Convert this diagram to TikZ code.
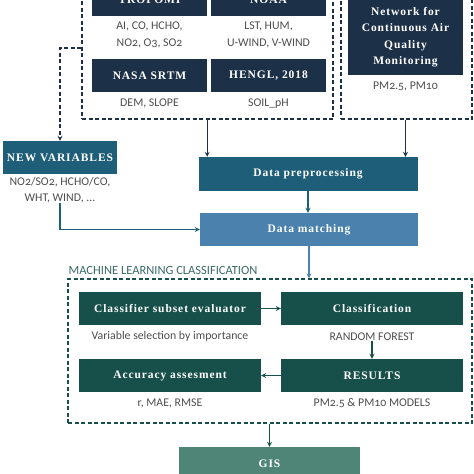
\documentclass[tikz,border=0pt]{standalone}
\usepackage{fontspec}
\usetikzlibrary{arrows, positioning}
\newfontfamily\headfont[LetterSpace=8]{Liberation Serif}
\newfontfamily\bodyfont[Numbers=OldStyle]{Carlito}
\definecolor{navy}{HTML}{1C3048}
\definecolor{prepblue}{HTML}{1F5E78}
\definecolor{matchblue}{HTML}{4A82AD}
\definecolor{mlgreen}{HTML}{17504A}
\definecolor{gisgreen}{HTML}{4E8577}
\definecolor{txtgray}{HTML}{4D4D4D}
\tikzstyle{source} = [rectangle, minimum width=115pt, minimum height=33pt, text centered, fill=navy, text=white, font=\headfont\bfseries\fontsize{11.5}{16.5}\selectfont]
\tikzstyle{process} = [rectangle, minimum width=219pt, minimum height=34pt, text centered, fill=prepblue, text=white, font=\headfont\bfseries\fontsize{11.5}{13}\selectfont]
\tikzstyle{mlstep} = [rectangle, minimum width=182pt, minimum height=33pt, text centered, fill=mlgreen, text=white, font=\headfont\bfseries\fontsize{11.5}{13}\selectfont]
\tikzstyle{values} = [align=center, text=txtgray, inner sep=0pt, font=\bodyfont\fontsize{11.8}{16.5}\selectfont]
\tikzstyle{group} = [rectangle, draw, line width=1.2pt, dash pattern=on 4pt off 2.5pt]
\tikzstyle{arrow} = [line width=1.2pt,->,>=stealth]

\begin{document}
\begin{tikzpicture}[x=1pt, y=-1pt, node distance=28pt]
\clip (0,0) rectangle (474,474);

% data sources
\node (srcframe) [group, draw=navy, minimum width=251pt, minimum height=159pt] at (207.5,39.5) {};
\node (netframe) [group, draw=navy, minimum width=131pt, minimum height=159pt] at (406.5,39.5) {};
\node (tropomi) [source] at (149.5,-0.5) {TROPOMI};
\node (noaa) [source] at (268.5,-0.5) {NOAA};
\node (nasa) [source] at (149.5,75.5) {NASA SRTM};
\node (hengl) [source] at (268.5,75.5) {HENGL, 2018};
\node (net) [source, align=center, minimum height=75pt] at (405.5,37) {Network for\\Continuous Air\\Quality\\Monitoring};
\node (tropoval) [values, node distance=35.5pt, below of=tropomi] {AI, CO, HCHO,\\NO2, O3, SO2};
\node (noaaval) [values, node distance=35.5pt, below of=noaa] {LST, HUM,\\U-WIND, V-WIND};
\node (nasaval) [values, below of=nasa] {DEM, SLOPE};
\node (henglval) [values, below of=hengl] {SOIL\_pH};
\node (netval) [values, node distance=49pt, below of=net] {PM2.5, PM10};

% preprocessing
\node (newvar) [process, minimum width=114pt, minimum height=33pt] at (60,157.5) {NEW VARIABLES};
\node (newval) [values, node distance=32.5pt, below of=newvar] {NO2/SO2, HCHO/CO,\\WHT, WIND, ...};
\node (prep) [process] at (308,174) {Data preprocessing};
\node (match) [process, fill=matchblue, minimum width=218pt, minimum height=33pt] at (309,229.5) {Data matching};

% machine learning
\node (ml) [group, draw=mlgreen, minimum width=404pt, minimum height=144pt] at (270,351) {};
\node (mllabel) [anchor=base west, inner sep=0pt, text=mlgreen!85!white, font=\bodyfont\fontsize{12.5}{14}\selectfont] at ([xshift=1pt, yshift=4pt]ml.north west) {MACHINE LEARNING CLASSIFICATION};
\node (cse) [mlstep] at (170,308.5) {Classifier subset evaluator};
\node (cls) [mlstep] at (372,308.5) {Classification};
\node (acc) [mlstep] at (170,375.5) {Accuracy assesment};
\node (res) [mlstep] at (372,375.5) {RESULTS};
\node (cseval) [values, below of=cse] {Variable selection by importance};
\node (clsval) [values, below of=cls] {RANDOM FOREST};
\node (accval) [values, below of=acc] {r, MAE, RMSE};
\node (resval) [values, below of=res] {PM2.5 \& PM10 MODELS};
\node (gis) [mlstep, fill=gisgreen, minimum width=181pt] at (269.5,463.5) {GIS};

\draw [arrow, navy, dash pattern=on 4pt off 2.5pt] (srcframe.west |- tropoval.south) -| (newvar.north);
\draw [arrow, navy] (tropomi.east |- srcframe.south) -- (tropomi.east |- prep.north);
\draw [arrow, navy] (net.south |- netframe.south) -- (net.south |- prep.north);
\draw [arrow, prepblue] (newval.south) |- (match.west);
\draw [arrow, prepblue] (prep.south) -- (prep.south |- match.north);
\draw [arrow, matchblue] (match.south) -- (match.south |- ml.north);
\draw [arrow, mlgreen] (cse) -- (cls);
\draw [arrow, mlgreen] (clsval.south) -- (res.north);
\draw [arrow, mlgreen] (res) -- (acc);
\draw [arrow, mlgreen] (gis.north |- ml.south) -- (gis.north);

\end{tikzpicture}
\end{document}
